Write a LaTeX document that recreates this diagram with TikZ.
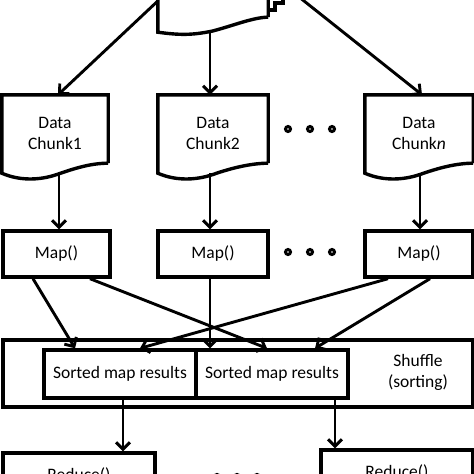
\documentclass[tikz,border=0pt]{standalone}
\usepackage{fontspec}
\setmainfont{Carlito}
\usetikzlibrary{arrows.meta,calc}
\newcommand\mydocline[1]{%
  \draw[ln] ([yshift=8pt]#1.south east) -- (#1.north east) -- (#1.north west) -- ([yshift=-2pt]#1.south west)
    .. controls +(16,7) and +(-20,7) .. ++(56,1)
    .. controls +(17,-6) and +(-17,0) .. ([yshift=8pt]#1.south east);}
\begin{document}
\begin{tikzpicture}[x=1pt,y=-1pt,
  txt/.style={inner sep=0pt, align=center, font=\fontsize{17.5}{21}\selectfont},
  ln/.style={line width=3.4pt, line join=miter},
  box/.style={txt, draw, line width=3.4pt},
  docnode/.style={txt},
  arr/.style={line width=2.9pt, -{Straight Barb[length=7pt,width=14pt,line width=2.9pt]}},
  dotc/.style={circle, draw, line width=3pt, minimum size=5pt, inner sep=0pt}
]
\useasboundingbox (0,0) rectangle (474,474);

% source documents (stacked)
\node[docnode, minimum width=110pt, minimum height=72pt] (src) at (213,-4) {};
\draw[ln] (268,10) -- (275,10) -- (275,3) -- (283,3) -- (283,-40);
\draw[ln] ([yshift=15pt]src.south east) -- (src.north east) -- (src.north west) -- (src.south west)
  .. controls +(22,3) and +(-20,4) .. ++(54,-1)
  .. controls +(20,-5) and +(-15,0) .. ([yshift=15pt]src.south east);

% data chunks
\node[docnode, minimum width=106pt, minimum height=76pt] (c1) at (55,133) {Data\\Chunk1};
\node[docnode, minimum width=110pt, minimum height=76pt] (c2) at (213,133) {Data\\Chunk2};
\node[docnode, minimum width=108pt, minimum height=76pt] (cn) at (419,133) {Data\\Chunk\textit{n}};
\mydocline{c1}
\mydocline{c2}
\mydocline{cn}

\node[dotc] (d1) at (288,129) {};
\node[dotc] (d2) at (310,129) {};
\node[dotc] (d3) at (332,129) {};

% maps
\node[box, minimum width=107pt, minimum height=46pt] (m1) at (56.5,254) {Map()};
\node[box, minimum width=110pt, minimum height=46pt] (m2) at (213,254) {Map()};
\node[box, minimum width=108pt, minimum height=46pt] (mn) at (419,254) {Map()};
\node[dotc] (e1) at (288,252) {};
\node[dotc] (e2) at (310,252) {};
\node[dotc] (e3) at (332,252) {};

% shuffle
\node[box, minimum width=470pt, minimum height=67pt] (sh) at (238,373.5) {};
\node[box, minimum width=152pt, minimum height=48pt] (s1) at (120,374) {Sorted map results};
\node[box, minimum width=152pt, minimum height=48pt] (s2) at (272,374) {Sorted map results};
\node[txt] (shl) at (418,372) {Shuffle\\(sorting)};

% reduce
\node[box, minimum width=152pt, minimum height=44pt] (r1) at (79,475) {Reduce()};
\node[box, minimum width=152pt, minimum height=44pt] (r2) at (397,472) {Reduce()};
\node[dotc] (f1) at (217,477) {};
\node[dotc] (f2) at (237,477) {};
\node[dotc] (f3) at (257,477) {};

% connectors
\draw[arr] ([yshift=-5pt]src.west) -- ([xshift=3pt]c1.north);
\draw[arr] ([xshift=-3pt]src.south) -- ([xshift=-3pt]c2.north);
\draw[arr] ([shift={(17,-10)}]src.east) -- ([xshift=3pt]cn.north);

\draw[arr] ([xshift=4pt,yshift=-2pt]c1.south) -- ([xshift=4pt]c1.south |- m1.north);
\draw[arr] ([xshift=-3pt,yshift=-2pt]c2.south) -- ([xshift=-3pt]c2.south |- m2.north);
\draw[arr] ([xshift=1pt,yshift=-2pt]cn.south) -- ([xshift=1pt]cn.south |- mn.north);

\draw[arr] ([xshift=-23.5pt]m1.south) -- ([xshift=-45pt]s1.north);
\draw[arr] ([xshift=33.5pt]m1.south) -- ([xshift=-5pt]s2.north);
\draw[arr] ([xshift=-3pt]m2.south) -- ([xshift=-62pt]s2.north);
\draw[arr] ([xshift=-31pt]mn.south) -- ([xshift=20pt]s1.north);
\draw[arr] ([xshift=11pt]mn.south) -- ([xshift=43pt]s2.north);

\draw[arr] ([xshift=3pt]s1.south) -- ([xshift=3pt]s1.south |- r1.north);
\draw[arr] ([xshift=63pt]s2.south) -- ([xshift=63pt]s2.south |- r2.north);
\end{tikzpicture}
\end{document}
